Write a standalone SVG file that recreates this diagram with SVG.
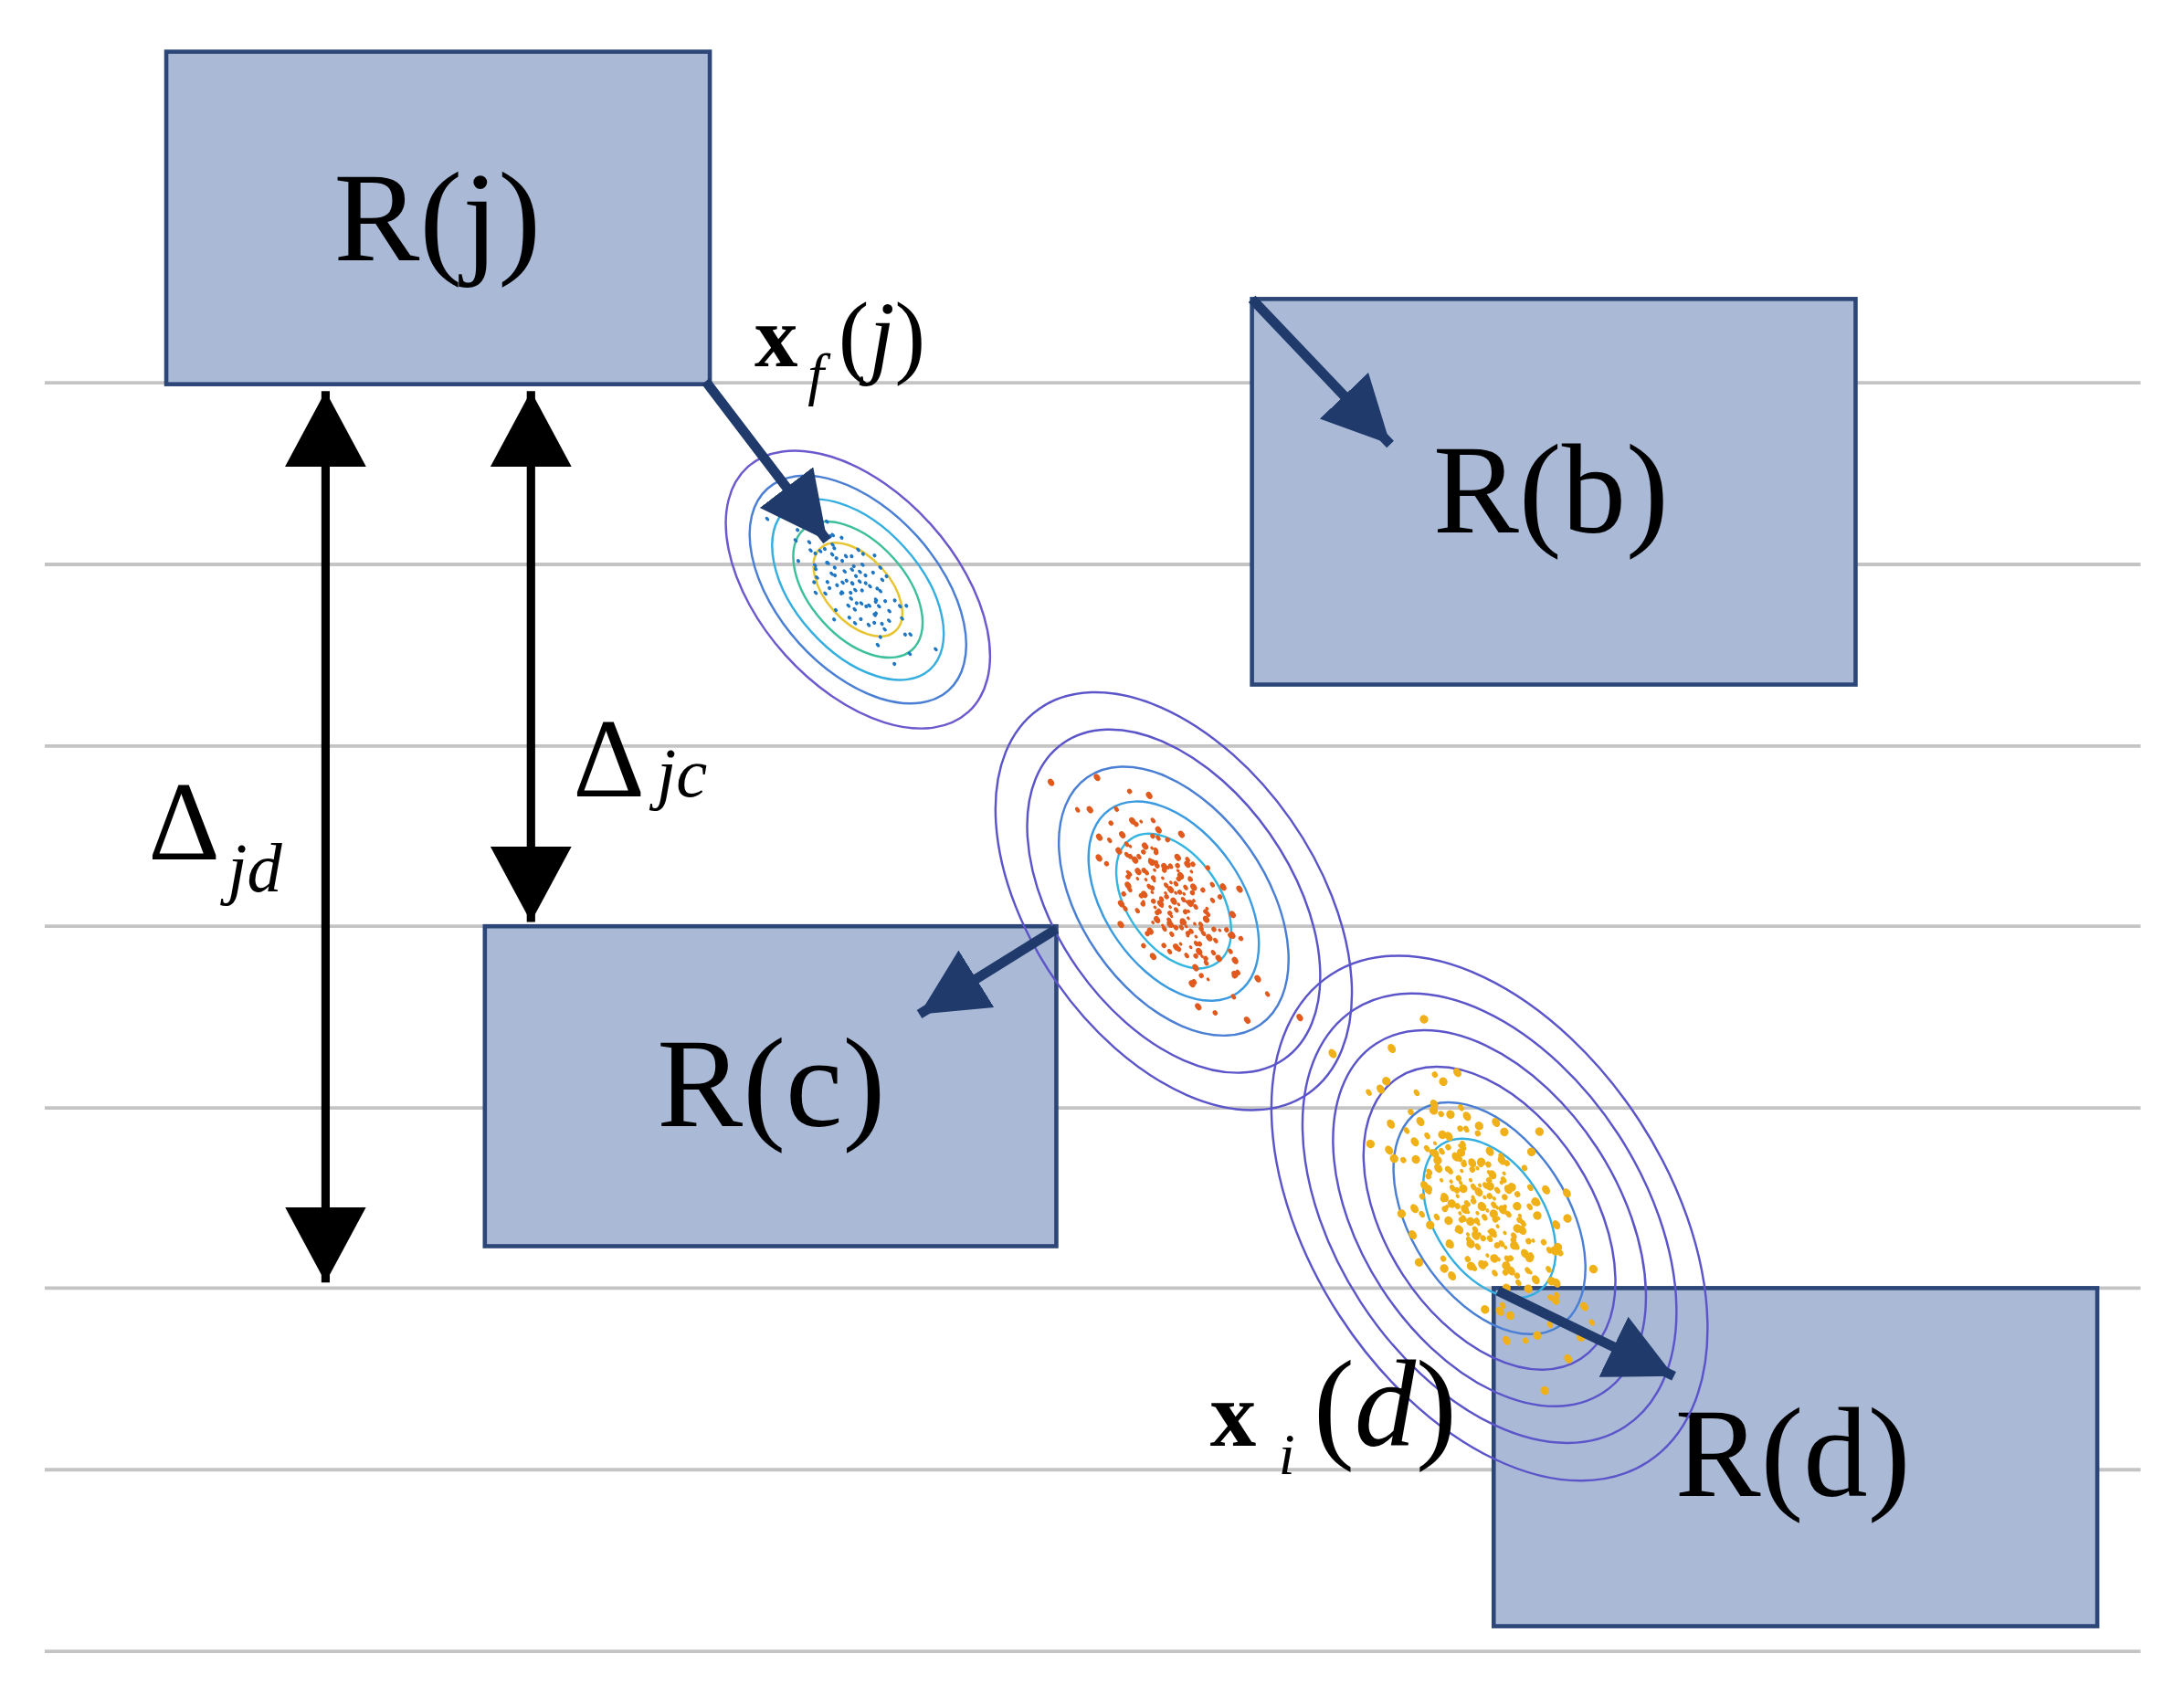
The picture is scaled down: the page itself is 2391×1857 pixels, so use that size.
<svg xmlns="http://www.w3.org/2000/svg" xmlns:xlink="http://www.w3.org/1999/xlink" width="2391" height="1857" viewBox="0 0 2391 1857">
<style>
.grid{stroke:#c4c4c4;stroke-width:2.5}
.box{fill:#a9b9d6;stroke:#2b4677;stroke-width:3}
.lbl{font-family:"Liberation Serif","Times New Roman",serif;font-size:92px;fill:#000;text-anchor:middle}
.m{font-family:"Liberation Serif","Times New Roman",serif;fill:#000}
.ba{stroke:#1f3a6b;stroke-width:7;fill:none}
.da{stroke:#000;stroke-width:6;fill:none}
.c{fill:none;stroke-width:1.6}
.dot{fill:none;stroke-width:7;stroke-linecap:round;vector-effect:non-scaling-stroke}
</style>
<defs>
<marker id="bh" markerUnits="userSpaceOnUse" markerWidth="56" markerHeight="56" refX="48" refY="24" orient="auto"><path d="M0,0 L48,24 L0,48 z" fill="#1f3a6b"/></marker>
<marker id="kh" markerUnits="userSpaceOnUse" markerWidth="64" markerHeight="64" refX="54" refY="29" orient="auto-start-reverse"><path d="M0,0 L54,29 L0,58 z" fill="#000"/></marker>
<path id="pts" d="M10 5h0.01M-30 20h0.01M50 -10h0.01M-60 -25h0.01M20 40h0.01M-10 -45h0.01M80 15h0.01M-85 10h0.01M35 -35h0.01M-40 50h0.01M5 -15h0.01M60 35h0.01M-20 -5h0.01M15 25h0.01M-70 -40h0.01M110 -20h0.01M-100 30h0.01M40 5h0.01M-50 -10h0.01M25 -55h0.01M-15 60h0.01M70 -45h0.01M-30 -60h0.01M0 30h0.01M90 50h0.01M-90 -50h0.01M45 55h0.01M-55 35h0.01M30 15h0.01M-5 -30h0.01M130 10h0.01M-125 -10h0.01M65 -20h0.01M-35 -30h0.01M10 -70h0.01M-25 75h0.01M55 10h0.01M-75 20h0.01M20 -25h0.01M-45 10h0.01M0 0h0.01M30 35h0.01M-10 15h0.01M75 -5h0.01M-65 5h0.01M150 -40h0.01M-150 45h0.01M85 -30h0.01M-15 -20h0.01M40 -15h0.01"/>
</defs>
<g transform="scale(1.5297)">
<g id="gridlines">
<line class="grid" x1="32" y1="274" x2="1532" y2="274"/>
<line class="grid" x1="32" y1="404" x2="1532" y2="404"/>
<line class="grid" x1="32" y1="534" x2="1532" y2="534"/>
<line class="grid" x1="32" y1="663" x2="1532" y2="663"/>
<line class="grid" x1="32" y1="793" x2="1532" y2="793"/>
<line class="grid" x1="32" y1="922" x2="1532" y2="922"/>
<line class="grid" x1="32" y1="1052" x2="1532" y2="1052"/>
<line class="grid" x1="32" y1="1182" x2="1532" y2="1182"/>
</g>
<g id="node-Rj"><rect class="box" x="119" y="37" width="389" height="238"/><text class="lbl" x="313" y="186">R(j)</text></g>
<g id="node-Rb"><rect class="box" x="896" y="214" width="432" height="276"/><text class="lbl" x="1110" y="381">R(b)</text></g>
<g id="node-Rc"><rect class="box" x="347" y="663" width="409" height="229"/><text class="lbl" x="552" y="806">R(c)</text></g>
<g id="node-Rd"><rect class="box" x="1069" y="922" width="432" height="242"/><text class="lbl" x="1283" y="1071">R(d)</text></g>
<g id="cluster-blue" transform="translate(614,422) rotate(48)">
<ellipse class="c" rx="118" ry="70" stroke="#6a5acd"/>
<ellipse class="c" rx="97" ry="57" stroke="#4a7fd4"/>
<ellipse class="c" rx="77" ry="45" stroke="#35aee0"/>
<ellipse class="c" rx="58" ry="34" stroke="#3cbf9a"/>
<ellipse class="c" rx="40" ry="23" stroke="#e8c430"/>
<g transform="translate(-6,0)"><use xlink:href="#pts" class="dot" stroke="#1f77c4" transform="scale(0.5,0.32)"/><use xlink:href="#pts" class="dot" stroke="#1f77c4" transform="scale(-0.42,0.36)"/></g>
</g>
<g id="cluster-orange" transform="translate(840,645) rotate(55)">
<ellipse class="c" rx="168" ry="102" stroke="#5b55c9"/>
<ellipse class="c" rx="138" ry="84" stroke="#5b55c9"/>
<ellipse class="c" rx="108" ry="66" stroke="#4a7fd4"/>
<ellipse class="c" rx="80" ry="49" stroke="#3c9be0"/>
<ellipse class="c" rx="54" ry="33" stroke="#35b6e0"/>
<use xlink:href="#pts" class="dot" stroke="#e05a1e" transform="scale(0.62,0.42)"/>
<use xlink:href="#pts" class="dot" stroke="#e05a1e" transform="scale(-0.55,0.48)"/>
<use xlink:href="#pts" class="dot" stroke="#e05a1e" transform="scale(0.4,-0.3)"/>
<use xlink:href="#pts" class="dot" stroke="#e05a1e" transform="scale(-0.8,-0.58)"/>
</g>
<g id="cluster-yellow" transform="translate(1066,872) rotate(57)">
<ellipse class="c" rx="208" ry="128" stroke="#5b55c9"/>
<ellipse class="c" rx="178" ry="110" stroke="#5b55c9"/>
<ellipse class="c" rx="149" ry="92" stroke="#5b55c9"/>
<ellipse class="c" rx="120" ry="74" stroke="#5b55c9"/>
<ellipse class="c" rx="92" ry="56" stroke="#4a7fd4"/>
<ellipse class="c" rx="63" ry="39" stroke="#35aee0"/>
<g transform="translate(-10,0)">
<use xlink:href="#pts" class="dot" stroke="#f0b018" transform="scale(0.75,0.52)"/>
<use xlink:href="#pts" class="dot" stroke="#f0b018" transform="scale(-0.65,0.58)"/>
<use xlink:href="#pts" class="dot" stroke="#f0b018" transform="scale(0.45,-0.35)"/>
<use xlink:href="#pts" class="dot" stroke="#f0b018" transform="scale(-1.0,-0.75)"/>
<use xlink:href="#pts" class="dot" stroke="#f0b018" transform="scale(0.9,-0.85)"/>
</g>
</g>
<g id="connectors">
<line class="da" x1="233" y1="280" x2="233" y2="918" marker-start="url(#kh)" marker-end="url(#kh)"/>
<line class="da" x1="380" y1="280" x2="380" y2="660" marker-start="url(#kh)" marker-end="url(#kh)"/>
<line class="ba" x1="505" y1="273" x2="592" y2="387" marker-end="url(#bh)"/>
<line class="ba" x1="896" y1="214" x2="995" y2="318" marker-end="url(#bh)"/>
<line class="ba" x1="756" y1="665" x2="658" y2="726" marker-end="url(#bh)"/>
<line class="ba" x1="1072" y1="924" x2="1198" y2="985" marker-end="url(#bh)"/>
</g>
<g id="labels">
<text class="m" x="106" y="615" font-size="80">Δ</text>
<text class="m" x="163" y="638" font-size="50" font-style="italic">jd</text>
<text class="m" x="410" y="570" font-size="80">Δ</text>
<text class="m" x="470" y="570" font-size="50" font-style="italic">jc</text>
<text class="m" x="540" y="262" font-size="62" font-weight="bold">x</text>
<text class="m" x="578" y="282" font-size="42" font-style="italic">f</text>
<text class="m" x="600" y="262" font-size="66">(<tspan font-style="italic">j</tspan>)</text>
<text class="m" x="866" y="1035" font-size="66" font-weight="bold">x</text>
<text class="m" x="915" y="1055" font-size="42" font-style="italic">i</text>
<text class="m" x="940" y="1035" font-size="88">(<tspan font-style="italic">d</tspan>)</text>
</g>
</g>
</svg>
